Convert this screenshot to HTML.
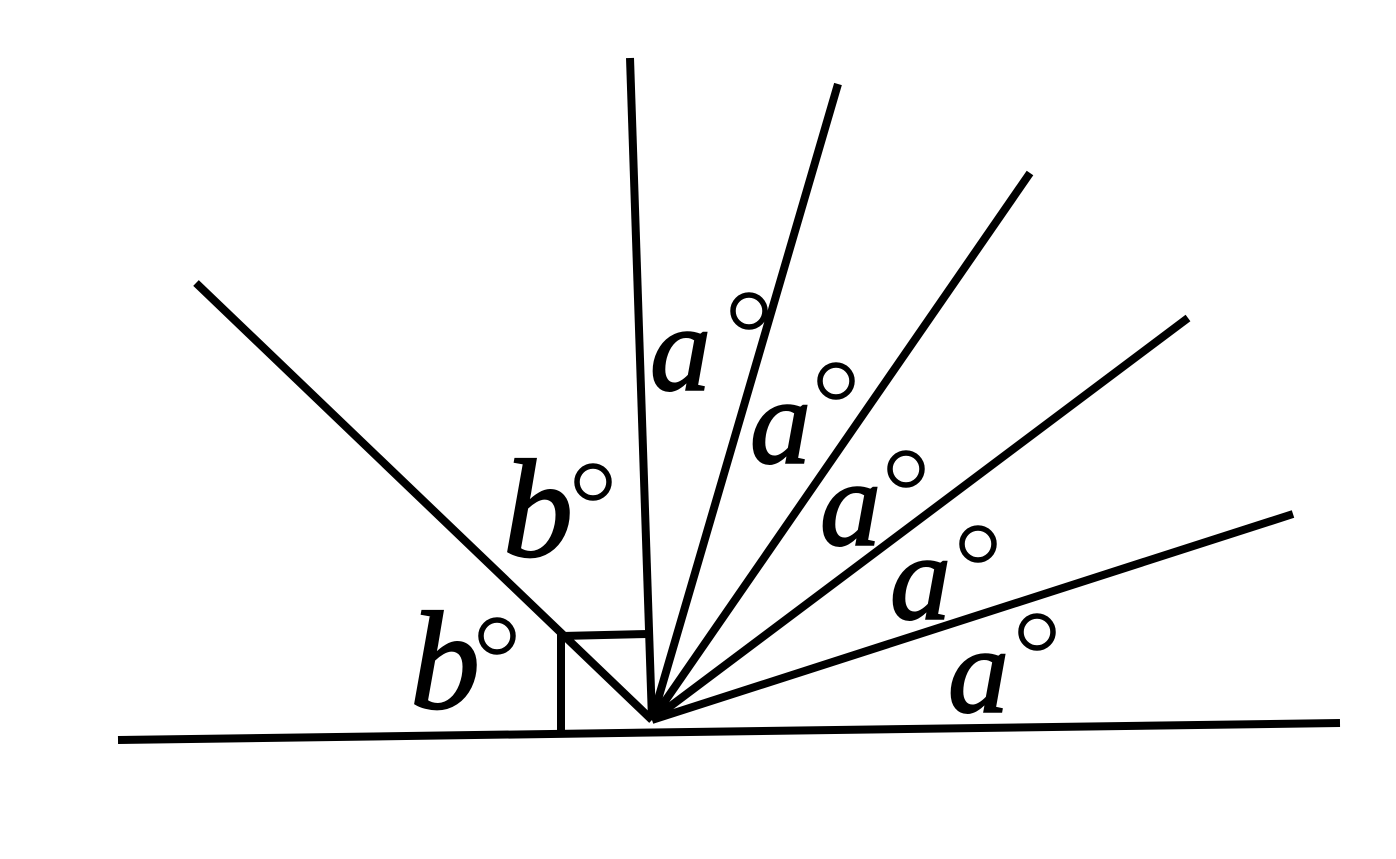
<!DOCTYPE html>
<html><head><style>html,body{margin:0;padding:0;background:#fff}svg{display:block}</style></head>
<body>
<svg width="1396" height="859" viewBox="0 0 1396 859" xmlns="http://www.w3.org/2000/svg">
<g stroke="#000" stroke-width="8" fill="none" stroke-linecap="butt">
<line x1="118" y1="740" x2="1340" y2="723"/>
<line x1="652" y1="720" x2="196" y2="283"/>
<line x1="652" y1="720" x2="630" y2="58"/>
<line x1="652" y1="720" x2="838" y2="84"/>
<line x1="652" y1="720" x2="1030" y2="173"/>
<line x1="652" y1="720" x2="1188" y2="318"/>
<line x1="652" y1="720" x2="1293" y2="514"/>
<polyline points="561,732 561,636 648,634"/>
</g>
<g stroke="#000" stroke-width="5.5" fill="none">
<circle cx="593" cy="482" r="16"/>
<circle cx="497" cy="636" r="16"/>
<circle cx="749" cy="311" r="16"/>
<circle cx="836" cy="381" r="16"/>
<circle cx="906" cy="469" r="16"/>
<circle cx="978" cy="544" r="16"/>
<circle cx="1037" cy="632" r="16"/>
</g>
<g font-family="Liberation Serif, serif" font-style="italic" fill="#000" stroke="#000" stroke-width="2">
<text x="503" y="556" font-size="140">b</text>
<text x="410" y="708" font-size="140">b</text>
<text x="650" y="390" font-size="122">a</text>
<text x="750" y="463" font-size="122">a</text>
<text x="820" y="545" font-size="122">a</text>
<text x="890" y="619" font-size="122">a</text>
<text x="948" y="712" font-size="122">a</text>
</g>
</svg>
</body></html>
